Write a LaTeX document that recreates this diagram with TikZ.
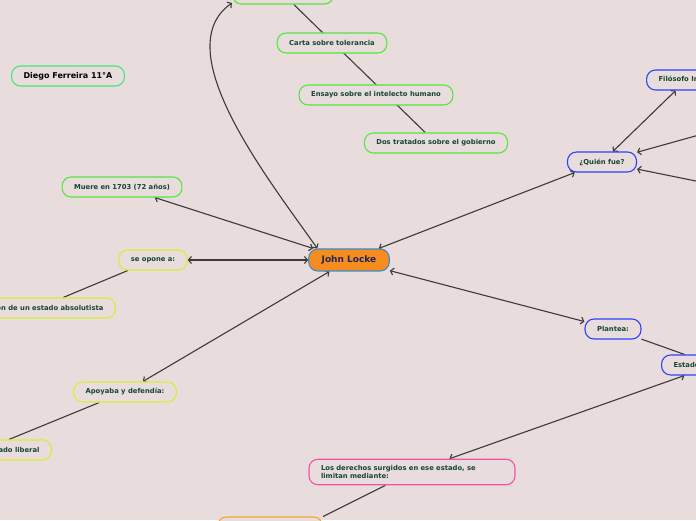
\documentclass[tikz,border=0pt]{standalone}
\usepackage{fontspec}
\setmainfont{DejaVu Sans}
\usetikzlibrary{backgrounds,arrows.meta}
\definecolor{paper}{RGB}{232,220,220}
\definecolor{leafgreen}{RGB}{85,230,60}
\definecolor{mint}{RGB}{70,228,125}
\definecolor{lime}{RGB}{215,240,45}
\definecolor{royal}{RGB}{45,65,250}
\definecolor{rose}{RGB}{240,85,165}
\definecolor{amber}{RGB}{245,165,45}
\definecolor{lockefill}{RGB}{245,140,30}
\definecolor{lockeline}{RGB}{60,140,205}
\definecolor{ink}{RGB}{22,70,52}
\definecolor{navy}{RGB}{30,40,90}
\definecolor{wire}{RGB}{62,58,58}
\tikzset{
  topic/.style={draw, fill=paper, rounded corners=9pt, line width=1.1pt,
    minimum height=20pt, inner xsep=12pt, inner ysep=0pt, text=ink,
    font=\fontsize{6.8}{8.2}\selectfont\bfseries},
  link/.style={draw=wire, line width=1.1pt},
  >={Straight Barb[length=3pt,width=7pt]},
}
\begin{document}
\begin{tikzpicture}[x=1pt,y=1pt]
\useasboundingbox (0,0) rectangle (696,520);
\begin{scope}[on background layer]
\fill[paper] (0,0) rectangle (696,520);
\end{scope}
%%% the central topic
\node[topic, fill=lockefill, draw=lockeline, text=navy, minimum height=22pt,
  inner xsep=13pt, font=\fontsize{9}{11}\selectfont\bfseries] (centro) at (349,260) {John Locke};
%%% works, top
\node[topic, draw=leafgreen, minimum width=101pt] (obras) at (283,526) {};
\node[topic, draw=leafgreen] (carta) at (332,477) {Carta sobre tolerancia};
\node[topic, draw=leafgreen] (ensayo) at (376,425) {Ensayo sobre el intelecto humano};
\node[topic, draw=leafgreen] (tratados) at (436,377) {Dos tratados sobre el gobierno};
%%% left side
\node[topic, draw=mint, text=black, font=\fontsize{8}{10}\selectfont\bfseries] (autor) at (68,444) {Diego Ferreira 11°A};
\node[topic, draw=leafgreen] (muere) at (122,333) {Muere en 1703 (72 años)};
\node[topic, draw=lime] (opone) at (153,260) {se opone a:};
\node[topic, draw=lime, anchor=east] (absoluto) at (116,212) {Creación de un estado absolutista};
\node[topic, draw=lime] (apoya) at (125,128) {Apoyaba y defendía:};
\node[topic, draw=lime, anchor=east] (liberal) at (52,70) {Creación de un estado liberal};
%%% right side
\node[topic, draw=royal] (quien) at (602,358) {¿Quién fue?};
\node[topic, draw=royal, anchor=west] (filosofo) at (646,440) {Filósofo Inglés};
\coordinate (quienA) at (760,402);
\coordinate (quienB) at (760,326);
\node[topic, draw=royal] (plantea) at (613,191) {Plantea:};
\node[topic, draw=royal, anchor=west] (estado) at (661,155) {Estado de naturaleza};
%%% bottom
\node[topic, draw=rose, text width=182pt, align=left, inner ysep=6pt] (derechos) at (412,48)
  {Los derechos surgidos en ese estado, se\\limitan mediante:};
\node[topic, draw=amber, minimum width=105pt, minimum height=52pt] (medios) at (270,-23) {};
%
\begin{scope}[on background layer]
\draw[link] (obras) -- (tratados);
\draw[link,<->] (centro.160) to [out=125,in=215,looseness=0.8] (obras.190);
\draw[link,<->] (centro) -- (muere);
\draw[link,<->] (centro) -- (opone);
\draw[link] (opone) -- (absoluto);
\draw[link,<->] (centro) -- (apoya);
\draw[link] (apoya) -- (liberal);
\draw[link,<->] (centro) -- (quien);
\draw[link,<->] (quien) -- (filosofo);
\draw[link,<-] (quien) -- (quienA);
\draw[link,<-] (quien) -- (quienB);
\draw[link,<->] (centro) -- (plantea);
\draw[link] (plantea) -- (estado);
\draw[link,<->] (estado) -- (derechos);
\draw[link] (derechos) -- (medios);
\end{scope}
\end{tikzpicture}
\end{document}
